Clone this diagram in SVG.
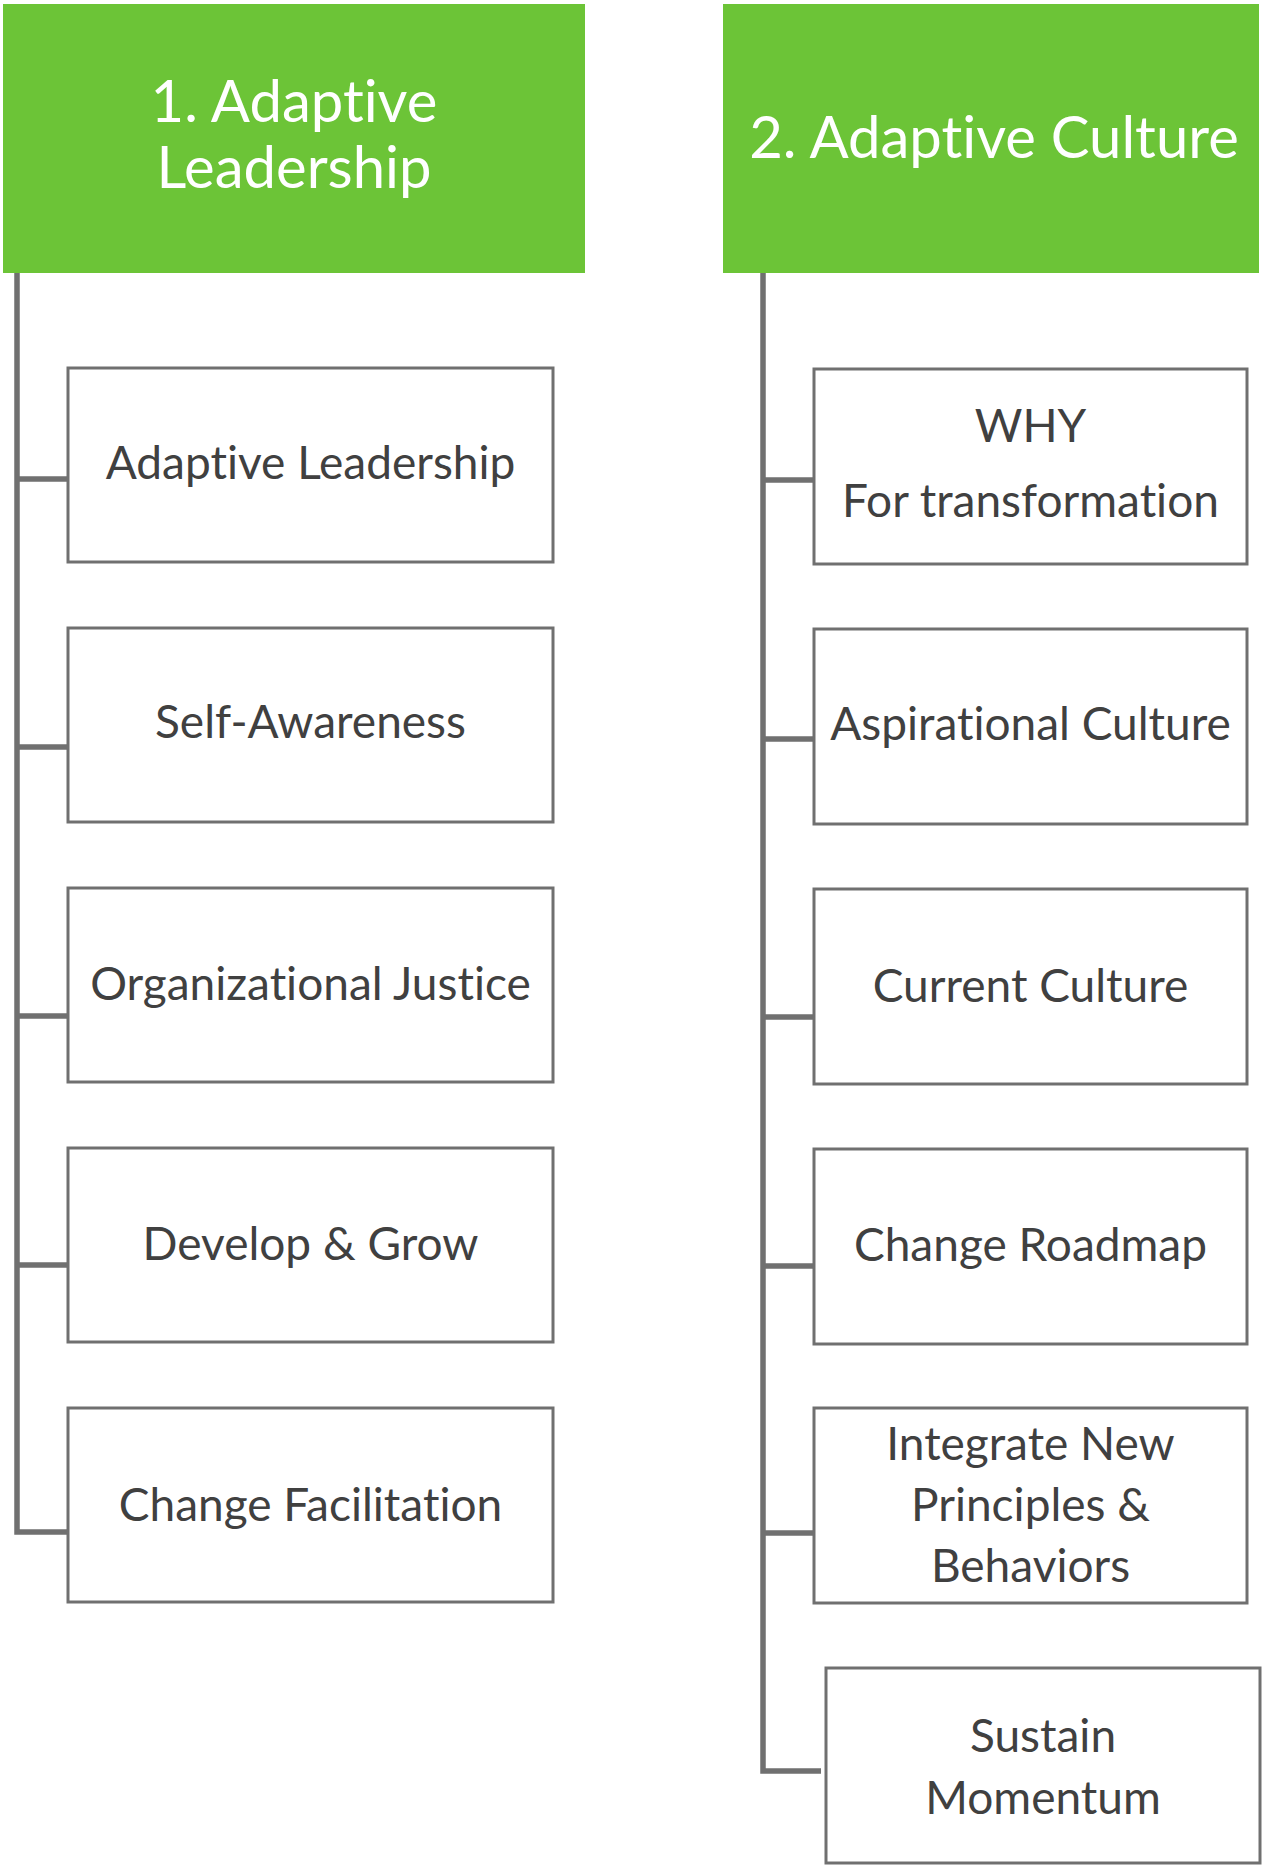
<svg xmlns="http://www.w3.org/2000/svg" width="1278" height="1865" viewBox="0 0 1278 1865">
<style>
text{font-variant-ligatures:none;font-feature-settings:"liga" 0,"clig" 0}
.head{fill:#6cc437}
.headtxt{font-family:Lato,"Open Sans",sans-serif;font-size:58px;fill:#ffffff;text-anchor:middle}
.box{fill:#ffffff;stroke:#707070;stroke-width:3}
.txt{font-family:Lato,"Open Sans",sans-serif;font-size:46px;fill:#404040;text-anchor:middle}
.conn{fill:none;stroke:#707070;stroke-width:5.5;stroke-linejoin:miter;stroke-linecap:butt}
.ext{fill:#ececec}
</style>
<rect width="1278" height="1865" fill="#ffffff"/>
<g id="connectors">
<path class="conn" d="M17,273 V1532 H68"/>
<path class="conn" d="M17,479 H68 M17,747 H68 M17,1016 H68 M17,1265 H68"/>
<path class="conn" d="M763,273 V1771 H821"/>
<path class="conn" d="M763,480 H814 M763,739 H814 M763,1017 H814 M763,1266 H814 M763,1533 H814"/>
<rect class="ext" x="69" y="476.5" width="6" height="5"/>
<rect class="ext" x="69" y="744.5" width="6" height="5"/>
<rect class="ext" x="69" y="1013.5" width="6" height="5"/>
<rect class="ext" x="69" y="1262.5" width="6" height="5"/>
<rect class="ext" x="69" y="1529.5" width="6" height="5"/>
<rect class="ext" x="815" y="477.5" width="6" height="5"/>
<rect class="ext" x="815" y="736.5" width="6" height="5"/>
<rect class="ext" x="815" y="1014.5" width="6" height="5"/>
<rect class="ext" x="815" y="1263.5" width="6" height="5"/>
<rect class="ext" x="815" y="1530.5" width="6" height="5"/>
</g>
<g id="head1">
<rect class="head" x="3" y="4" width="582" height="269"/>
<text class="headtxt" x="294" y="122">1. Adaptive</text>
<text class="headtxt" x="294" y="188">Leadership</text>
</g>
<g id="head2">
<rect class="head" x="723" y="4" width="536" height="269"/>
<text class="headtxt" x="994" y="158">2. Adaptive Culture</text>
</g>
<g id="l1">
<rect class="box" x="68" y="368" width="485" height="194"/>
<text class="txt" x="310.5" y="479">Adaptive Leadership</text>
</g>
<g id="l2">
<rect class="box" x="68" y="628" width="485" height="194"/>
<text class="txt" x="310.5" y="738">Self-Awareness</text>
</g>
<g id="l3">
<rect class="box" x="68" y="888" width="485" height="194"/>
<text class="txt" x="310.5" y="1000">Organizational Justice</text>
</g>
<g id="l4">
<rect class="box" x="68" y="1148" width="485" height="194"/>
<text class="txt" x="310.5" y="1260">Develop &amp; Grow</text>
</g>
<g id="l5">
<rect class="box" x="68" y="1408" width="485" height="194"/>
<text class="txt" x="310.5" y="1521">Change Facilitation</text>
</g>
<g id="r1">
<rect class="box" x="814" y="369" width="433" height="195"/>
<text class="txt" x="1030.5" y="442">WHY</text>
<text class="txt" x="1030.5" y="517">For transformation</text>
</g>
<g id="r2">
<rect class="box" x="814" y="629" width="433" height="195"/>
<text class="txt" x="1030.5" y="740">Aspirational Culture</text>
</g>
<g id="r3">
<rect class="box" x="814" y="889" width="433" height="195"/>
<text class="txt" x="1030.5" y="1002">Current Culture</text>
</g>
<g id="r4">
<rect class="box" x="814" y="1149" width="433" height="195"/>
<text class="txt" x="1030.5" y="1261">Change Roadmap</text>
</g>
<g id="r5">
<rect class="box" x="814" y="1408" width="433" height="195"/>
<text class="txt" x="1030.5" y="1460">Integrate New</text>
<text class="txt" x="1030.5" y="1521">Principles &amp;</text>
<text class="txt" x="1030.5" y="1582">Behaviors</text>
</g>
<g id="r6">
<rect class="box" x="826" y="1668" width="434" height="195"/>
<text class="txt" x="1043" y="1752">Sustain</text>
<text class="txt" x="1043" y="1814">Momentum</text>
</g>
</svg>
